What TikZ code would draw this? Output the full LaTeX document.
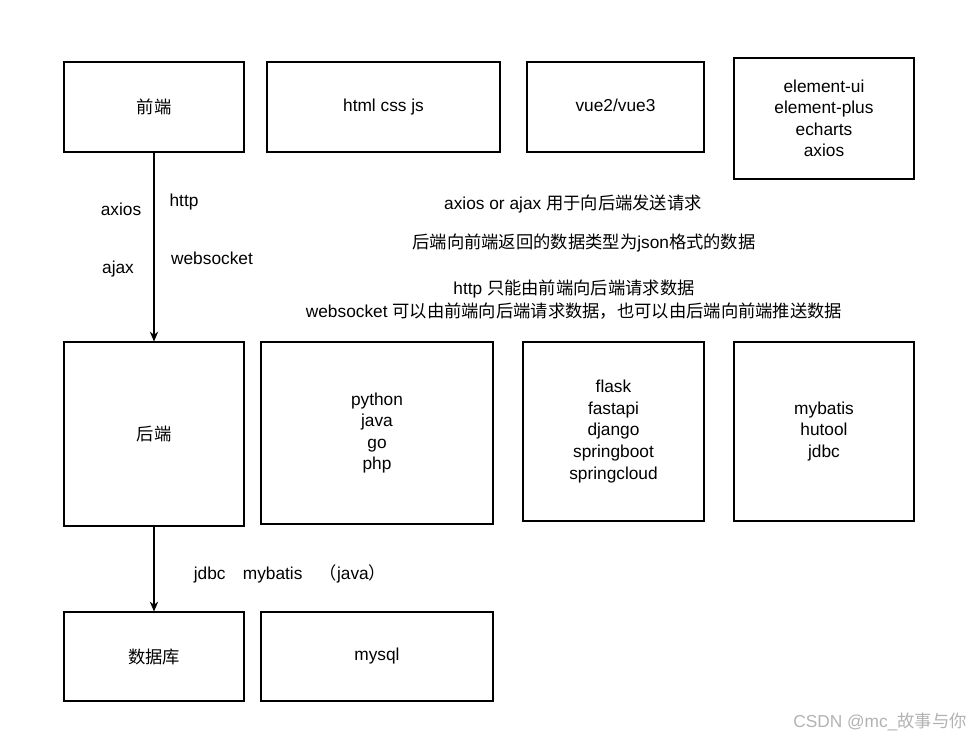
\documentclass[tikz,border=0pt]{standalone}
\usepackage{fontspec}
\setmainfont{Liberation Sans}
\newfontfamily\cjk{Noto Sans CJK SC}
\usetikzlibrary{arrows.meta}
\begin{document}
\begin{tikzpicture}[x=0.025cm, y=-0.025cm, font=\fontsize{12.3}{15.3}\selectfont,
    box/.style={rectangle, draw, thick, align=center, inner sep=0pt},
    lbl/.style={align=center, inner sep=0pt},
    link/.style={-{Stealth[length=7pt, width=6pt]}, thick}]

    \useasboundingbox (0,0) rectangle (975,741);

    % top row
    \node (front) [box, minimum width=180*0.025cm, minimum height=90*0.025cm] at (154,107) {\cjk 前端};
    \node (web) [box, minimum width=233*0.025cm, minimum height=90*0.025cm] at (383.5,107) {\strut html css js};
    \node (vue) [box, minimum width=177*0.025cm, minimum height=90*0.025cm] at (615.5,107) {\strut vue2/vue3};
    \node (ui) [box, minimum width=180*0.025cm, minimum height=121*0.025cm] at (824,118.5) {element-ui\\element-plus\\echarts\\axios};

    % middle row
    \node (back) [box, minimum width=180*0.025cm, minimum height=184*0.025cm] at (154,434) {\cjk 后端};
    \node (lang) [box, minimum width=232*0.025cm, minimum height=182*0.025cm] at (377,433) {python\\java\\go\\php};
    \node (frame) [box, minimum width=181*0.025cm, minimum height=179*0.025cm] at (613.5,431.5) {flask\\fastapi\\django\\springboot\\springcloud};
    \node (tool) [box, minimum width=180*0.025cm, minimum height=179*0.025cm] at (824,431.5) {mybatis\\hutool\\jdbc};

    % bottom row
    \node (db) [box, minimum width=180*0.025cm, minimum height=89*0.025cm] at (154,656.5) {\cjk 数据库};
    \node (mysql) [box, minimum width=232*0.025cm, minimum height=89*0.025cm] at (377,656.5) {\strut mysql};

    % arrows
    \draw[link] (front) -- (back);
    \draw[link] (back) -- (db);

    % labels
    \node (axios) [lbl] at (121,211) {\strut axios};
    \node (ajax) [lbl] at (118,269) {\strut ajax};
    \node (http) [lbl] at (184,202) {\strut http};
    \node (ws) [lbl] at (212,260) {\strut websocket};
    \node (note1) [lbl] at (573,204) {axios or ajax {\cjk 用于向后端发送请求}};
    \node (note2) [lbl] at (584,243) {{\cjk 后端向前端返回的数据类型为}json{\cjk 格式的数据}};
    \node (note3) [lbl] at (574,289) {http {\cjk 只能由前端向后端请求数据}};
    \node (note4) [lbl] at (574,311) {websocket {\cjk 可以由前端向后端请求数据，也可以由后端向前端推送数据}};
    \node (orm) [lbl] at (290,574) {jdbc\quad mybatis\quad {\cjk （}java{\cjk ）}};
    \node (mark) [lbl, text=gray!60] at (880,722) {CSDN @mc\_{\cjk 故事与你}};

\end{tikzpicture}
\end{document}
